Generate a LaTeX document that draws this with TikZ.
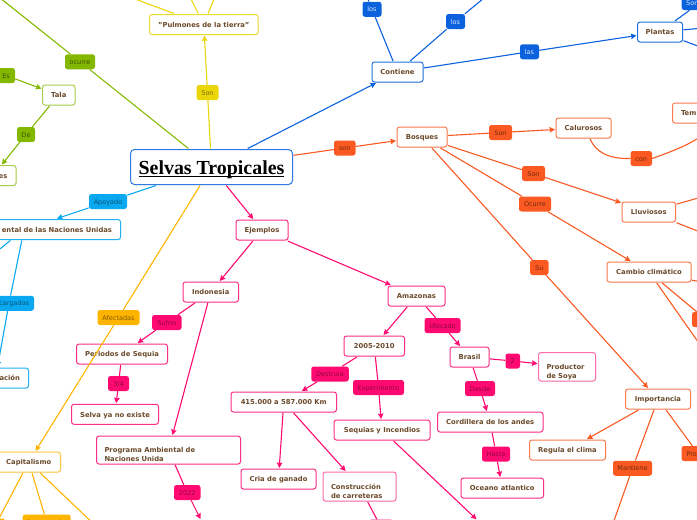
\documentclass[tikz,border=0pt]{standalone}
\usepackage{xcolor}
\usepackage{fontspec}
\setmainfont{DejaVu Sans}
\newfontfamily\titlefont{Liberation Serif}
\usetikzlibrary{shapes,arrows,arrows.meta,calc,shadows}
\definecolor{pinkc}{HTML}{FF0A70}
\definecolor{orangec}{HTML}{FA5A22}
\definecolor{blueb}{HTML}{0B62DC}
\definecolor{skyb}{HTML}{0AA8F0}
\definecolor{greenc}{HTML}{84B800}
\definecolor{yellowc}{HTML}{EBD60A}
\definecolor{amberc}{HTML}{FFB400}
\definecolor{nodetext}{HTML}{6B4A2A}
\tikzstyle{class} = [rectangle, rounded corners=2.5pt, minimum height=20pt, inner sep=0pt, outer sep=1pt, text centered, text height=5.5pt, text depth=0pt, fill=white, line width=1pt, text=nodetext, font=\fontsize{6.8}{8.8}\selectfont\bfseries, drop shadow={shadow xshift=.5pt,shadow yshift=-.7pt,opacity=.18}]
\tikzstyle{tag} = [rectangle, rounded corners=2.5pt, minimum height=15pt, inner sep=0pt, text centered, text height=5pt, text depth=0pt, font=\fontsize{6.5}{8}\selectfont]
\tikzstyle{arrow} = [line width=1.1pt,->,>={Stealth[inset=.6pt,length=5.5pt,width=5.5pt]}]
\tikzstyle{link} = [line width=1.1pt]
\tikzstyle{pinkclass} = [class, draw=pinkc!85!white]
\tikzstyle{orangeclass} = [class, draw=orangec!80!white]
\tikzstyle{blueclass} = [class, draw=blueb!90!white]
\tikzstyle{skyclass} = [class, draw=skyb!90!white]
\tikzstyle{greenclass} = [class, draw=greenc!70!white]
\tikzstyle{yellowclass} = [class, draw=yellowc!85!white]
\tikzstyle{amberclass} = [class, draw=amberc!75!white]
\tikzstyle{pinktag} = [tag, fill=pinkc, text=pinkc!55!black]
\tikzstyle{orangetag} = [tag, fill=orangec, text=orangec!45!black]
\tikzstyle{bluetag} = [tag, fill=blueb, text=white!85!blueb]
\tikzstyle{skytag} = [tag, fill=skyb, text=skyb!50!black]
\tikzstyle{greentag} = [tag, fill=greenc, text=greenc!45!black]
\tikzstyle{yellowtag} = [tag, fill=yellowc, text=yellowc!50!black]
\tikzstyle{ambertag} = [tag, fill=amberc, text=amberc!50!black]

\begin{document}
\begin{tikzpicture}[x=1pt,y=-1pt]
	\useasboundingbox (0,0) rectangle (697,520);
	\clip (0,0) rectangle (697,520);

	% main branches
	\node (Title) [class, draw=blueb!85!white, minimum width=162pt, minimum height=35pt, rounded corners=4pt, text=black, text height=, text depth=, font=\titlefont\fontsize{19.9}{22}\selectfont\bfseries] at (211.5,167) {\raisebox{-7.5pt}[0pt][0pt]{\underline{\smash{Selvas Tropicales}}}};
	\node (Pulmones) [yellowclass, minimum width=108.5pt] at (203.75,24.5) {"Pulmones de la tierra"};
	\node (Contiene) [blueclass, minimum width=51pt] at (397.5,72) {Contiene};
	\node (Plantas) [blueclass, minimum width=45pt] at (660,32) {Plantas};
	\node (Tala) [greenclass, minimum width=32.5pt] at (58.75,95) {Tala};
	\node (Causes) [greenclass, text width=28.6pt, inner xsep=8.7pt, align=right] at (-7,175.5) {es};
	\node (Naciones) [skyclass, text width=176pt, inner xsep=8.5pt, align=right] at (24,229.5) {ental de las Naciones Unidas};
	\node (Accion) [skyclass, text width=49pt, inner xsep=8.5pt, align=right] at (-4.5,378) {ación};
	\node (Capitalismo) [amberclass, minimum width=63.5pt] at (28.75,462) {Capitalismo};

	% ejemplos
	\node (Ejemplos) [pinkclass, minimum width=52pt] at (262,230) {Ejemplos};
	\node (Indonesia) [pinkclass, minimum width=55.5pt] at (210.75,292) {Indonesia};
	\node (Periodos) [pinkclass, minimum width=91pt] at (122,354) {Periodos de Sequia};
	\node (Selva) [pinkclass, minimum width=87pt] at (115,414.25) {Selva ya no existe};
	\node (Programa) [pinkclass, minimum height=28pt, text width=128pt, inner xsep=8pt, align=left] at (168.5,450) {Programa Ambiental de\\Naciones Unida};
	\node (Amazonas) [pinkclass, minimum width=57pt] at (416.5,296) {Amazonas};
	\node (Sequia) [pinkclass, minimum width=60.5pt] at (374.25,346) {2005-2010};
	\node (Brasil) [pinkclass, minimum width=39pt] at (469.5,357) {Brasil};
	\node (Productor) [pinkclass, minimum height=28.5pt, text width=41pt, inner xsep=8pt, align=left, draw=pinkc!60!white] at (567,366.75) {Productor\\de Soya};
	\node (Km) [pinkclass, minimum width=105.5pt] at (283.75,402) {415.000 a 587.000 Km};
	\node (Incendios) [pinkclass, minimum width=96pt] at (382,430) {Sequias y Incendios};
	\node (Cordillera) [pinkclass, minimum width=105.5pt] at (490.25,422) {Cordillera de los andes};
	\node (Oceano) [pinkclass, minimum width=82.5pt] at (502.25,488) {Oceano atlantico};
	\node (Ganado) [pinkclass, minimum width=75pt] at (278.5,479) {Cria de ganado};
	\node (Carreteras) [pinkclass, minimum height=29pt, text width=57pt, inner xsep=8pt, align=left, draw=pinkc!60!white] at (359.5,486.5) {Construcción\\de carreteras};

	% bosques
	\node (Bosques) [orangeclass, minimum width=50pt] at (422,137) {Bosques};
	\node (Calurosos) [orangeclass, minimum width=55pt] at (583.5,128) {Calurosos};
	\node (Lluviosos) [orangeclass, minimum width=53.5pt] at (648.75,212) {Lluviosos};
	\node (Cambio) [orangeclass, minimum width=84pt] at (649,272) {Cambio climático};
	\node (Importancia) [orangeclass, minimum width=65pt] at (658,399) {Importancia};
	\node (Regula) [orangeclass, minimum width=76pt] at (567.5,450) {Regula el clima};
	\node (Tem) [orangeclass, text width=38pt, inner xsep=8.5pt, align=left] at (700,113) {Tem};

	% labels on the connectors
	\node (SonYellow) [yellowtag, minimum width=22pt] at (207.5,92.5) {Son};
	\node (Ocurre) [greentag, minimum width=30pt] at (80,61.75) {ocurre};
	\node (EsTag) [greentag, minimum width=18pt] at (6,75.5) {Es};
	\node (DeTag) [greentag, minimum width=18pt] at (26,134.5) {De};
	\node (Apoyado) [skytag, minimum width=38pt] at (108,201.5) {Apoyado};
	\node (Encargados) [skytag, text width=40pt, inner xsep=5pt, align=right] at (9,303.25) {cargados};
	\node (Afectadas) [ambertag, minimum width=42pt] at (118.5,317.5) {Afectadas};
	\node (Sufrio) [pinktag, minimum width=29.5pt] at (166.75,322.5) {Sufrio};
	\node (Tres) [pinktag, minimum width=21pt] at (118.5,383.5) {3/4};
	\node (Year) [pinktag, minimum width=26.5pt] at (187.25,492.5) {2022};
	\node (SonOrange) [orangetag, minimum width=21.5pt] at (344.75,148) {son};
	\node (SonCalor) [orangetag, minimum width=23pt] at (500.5,132.5) {Son};
	\node (Con) [orangetag, minimum width=21.5pt] at (641.25,158.5) {con};
	\node (SonLluvia) [orangetag, minimum width=23pt] at (533.5,173.5) {Son};
	\node (OcurreB) [orangetag, minimum width=32pt] at (535,204) {Ocurre};
	\node (Su) [orangetag, minimum width=18.5pt] at (539.25,267.5) {Su};
	\node (Destruia) [pinktag, minimum width=37.5pt] at (330,374) {Destruia};
	\node (Ubicado) [pinktag, minimum width=36pt] at (442.5,325.5) {Ubicado};
	\node (Experimento) [pinktag, minimum width=51pt] at (378.5,387.5) {Experimento};
	\node (Dos) [pinktag, minimum width=14.5pt] at (512.75,361) {2};
	\node (Desde) [pinktag, minimum width=30pt] at (480,388.5) {Desde};
	\node (Hasta) [pinktag, minimum width=28pt] at (496,454) {Hasta};
	\node (Mantiene) [orangetag, minimum width=39pt] at (632.5,468.25) {Mantiene};
	\node (Pro) [orangetag, text width=23pt, inner xsep=5pt, align=left] at (698,453.5) {Pro};
	\node (BlankOrange) [orangetag, minimum width=28pt] at (706,319.5) {};
	\node (LosA) [bluetag, minimum width=19pt] at (372,9.25) {los};
	\node (LosB) [bluetag, minimum width=19pt] at (455.5,21.5) {los};
	\node (Las) [bluetag, minimum width=19pt] at (529.5,51.75) {las};
	\node (SonPlantas) [bluetag, text width=27.6pt, inner xsep=4.5pt, align=left] at (700,2.5) {Son};
	\node (Incremento) [ambertag, minimum width=48pt] at (46.7,522) {Incremento};
	\node (CornerAmber) [ambertag, minimum width=20pt] at (-5,526) {};
	\node (LowPink) [pinktag, minimum width=24pt] at (381,527) {};

	% free ends outside the page
	\coordinate (TopA) at (100,-14);
	\coordinate (TopB) at (186.5,-10);
	\coordinate (TopC) at (217.5,-10);
	\coordinate (TopOcurre) at (-20,-18);
	\coordinate (TopLos) at (366,-6);
	\coordinate (TopLosB) at (495,-11);
	\coordinate (RightPlantasA) at (720,26.5);
	\coordinate (RightPlantasB) at (730,58);
	\coordinate (RightLluviaA) at (730,189);
	\coordinate (RightLluviaB) at (730,243.5);
	\coordinate (RightCambioA) at (733,288);
	\coordinate (RightCambioB) at (720,373);
	\coordinate (LeftNaciones) at (-20,265);
	\coordinate (LeftEs) at (-20,65);
	\coordinate (LowMantiene) at (610,532);
	\coordinate (LowCapital) at (100,530);
	\coordinate (LowPrograma) at (200.5,519);
	\coordinate (LowIncendios) at (476.5,519.3);

	% yellow
	\draw[link, yellowc] (Title) -- (SonYellow);
	\draw[arrow, yellowc] (SonYellow) -- (Pulmones);
	\draw[link, yellowc] (Pulmones) -- (TopA);
	\draw[link, yellowc] (Pulmones) -- (TopB);
	\draw[link, yellowc] (Pulmones) -- (TopC);

	% green
	\draw[link, greenc] (Title) -- (Ocurre);
	\draw[link, greenc] (Ocurre) -- (TopOcurre);
	\draw[link, greenc] (LeftEs) -- (EsTag);
	\draw[arrow, greenc] (EsTag) -- (Tala);
	\draw[link, greenc] (Tala) -- (DeTag);
	\draw[arrow, greenc] (DeTag) -- (Causes);

	% sky
	\draw[link, skyb] (Title) -- (Apoyado);
	\draw[arrow, skyb] (Apoyado) -- (Naciones);
	\draw[link, skyb] (Naciones) -- (LeftNaciones);
	\draw[link, skyb] (Naciones) -- (Encargados);
	\draw[arrow, skyb] (Encargados) -- (Accion);

	% amber
	\draw[link, amberc] (Title) -- (Afectadas);
	\draw[arrow, amberc] (Afectadas) -- (Capitalismo);
	\draw[link, amberc] (Capitalismo) -- (CornerAmber);
	\draw[link, amberc] (Capitalismo) -- (Incremento);
	\draw[link, amberc] (Capitalismo) -- (LowCapital);

	% blue
	\draw[arrow, blueb] (Title) -- (Contiene);
	\draw[link, blueb] (Contiene) -- (LosA);
	\draw[link, blueb] (LosA) -- (TopLos);
	\draw[link, blueb] (Contiene) -- (LosB);
	\draw[link, blueb] (LosB) -- (TopLosB);
	\draw[link, blueb] (Contiene) -- (Las);
	\draw[arrow, blueb] (Las) -- (Plantas);
	\draw[link, blueb] (Plantas) -- (SonPlantas);
	\draw[link, blueb] (Plantas) -- (RightPlantasA);
	\draw[link, blueb] (Plantas) -- (RightPlantasB);

	% pink
	\draw[arrow, pinkc] (Title) -- (Ejemplos);
	\draw[arrow, pinkc] (Ejemplos) -- (Indonesia);
	\draw[arrow, pinkc] (Ejemplos) -- (Amazonas);
	\draw[link, pinkc] (Indonesia) -- (Sufrio);
	\draw[arrow, pinkc] (Sufrio) -- (Periodos);
	\draw[link, pinkc] (Periodos) -- (Tres);
	\draw[arrow, pinkc] (Tres) -- (Selva);
	\draw[arrow, pinkc] (Indonesia) -- (Programa);
	\draw[link, pinkc] (Programa) -- (Year);
	\draw[arrow, pinkc] (Year) -- (LowPrograma);
	\draw[arrow, pinkc] (Amazonas) -- (Sequia);
	\draw[link, pinkc] (Amazonas) -- (Ubicado);
	\draw[arrow, pinkc] (Ubicado) -- (Brasil);
	\draw[link, pinkc] (Sequia) -- (Destruia);
	\draw[arrow, pinkc] (Destruia) -- (Km);
	\draw[link, pinkc] (Sequia) -- (Experimento);
	\draw[arrow, pinkc] (Experimento) -- (Incendios);
	\draw[link, pinkc] (Brasil) -- (Dos);
	\draw[arrow, pinkc] (Dos) -- (Productor);
	\draw[link, pinkc] (Brasil) -- (Desde);
	\draw[arrow, pinkc] (Desde) -- (Cordillera);
	\draw[link, pinkc] (Cordillera) -- (Hasta);
	\draw[arrow, pinkc] (Hasta) -- (Oceano);
	\draw[arrow, pinkc] (Km) -- (Ganado);
	\draw[arrow, pinkc] (Km) -- (Carreteras);
	\draw[arrow, pinkc] (Incendios) -- (LowIncendios);
	\draw[link, pinkc] (Carreteras) -- (LowPink);

	% orange
	\draw[link, orangec] (Title) -- (SonOrange);
	\draw[arrow, orangec] (SonOrange) -- (Bosques);
	\draw[link, orangec] (Bosques) -- (SonCalor);
	\draw[arrow, orangec] (SonCalor) -- (Calurosos);
	\draw[link, orangec] (Bosques) -- (SonLluvia);
	\draw[arrow, orangec] (SonLluvia) -- (Lluviosos);
	\draw[link, orangec] (Bosques) -- (OcurreB);
	\draw[arrow, orangec] (OcurreB) -- (Cambio);
	\draw[link, orangec] (Bosques) -- (Su);
	\draw[arrow, orangec] (Su) -- (Importancia);
	\draw[link, orangec] ([xshift=6.5pt]Calurosos.south) .. controls (596,152) and (608,159) .. (Con.west);
	\draw[link, orangec] (Con.east) .. controls (670,152) and (700,142) .. ([xshift=15pt]Tem.south);
	\draw[link, orangec] (Lluviosos) -- (RightLluviaA);
	\draw[link, orangec] (Lluviosos) -- (RightLluviaB);
	\draw[link, orangec] (Cambio) -- (RightCambioA);
	\draw[link, orangec] (Cambio) -- (BlankOrange);
	\draw[link, orangec] (Cambio) -- (RightCambioB);
	\draw[arrow, orangec] (Importancia) -- (Regula);
	\draw[link, orangec] (Importancia) -- (Mantiene);
	\draw[link, orangec] (Mantiene) -- (LowMantiene);
	\draw[link, orangec] (Importancia) -- (Pro);
\end{tikzpicture}
\end{document}
